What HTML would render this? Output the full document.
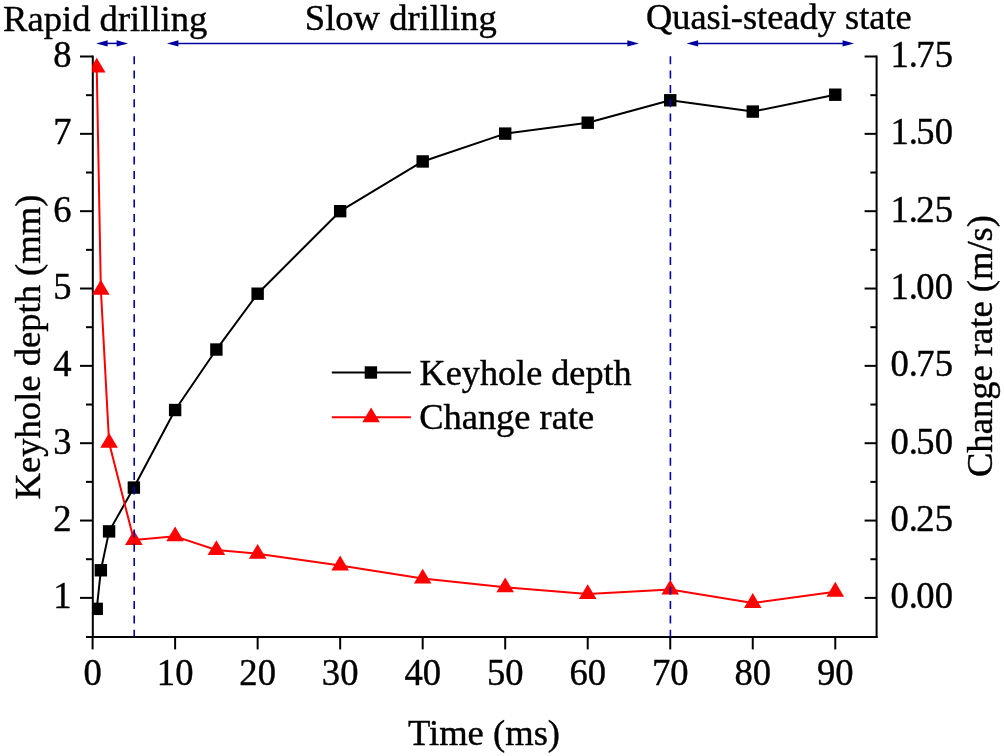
<!DOCTYPE html>
<html><head><meta charset="utf-8"><title>Keyhole depth chart</title>
<style>
html,body{margin:0;padding:0;background:#fff;}
body{width:1004px;height:756px;overflow:hidden;}
svg{display:block;}
text{font-family:"Liberation Serif", "Times New Roman", serif;font-size:36.6px;fill:#000;stroke:#000;stroke-width:0.4px;}
</style></head><body>
<svg width="1004" height="756" viewBox="0 0 1004 756">
<rect x="0" y="0" width="1004" height="756" fill="#fff"/>
<defs><clipPath id="pa"><rect x="92.3" y="36.5" width="784.3" height="600.5"/></clipPath></defs>
<g stroke="#000" stroke-width="2" fill="none">
<line x1="92.8" y1="55.6" x2="92.8" y2="637"/>
<line x1="86" y1="637" x2="877.6" y2="637"/>
<line x1="876.6" y1="55.5" x2="876.6" y2="638"/>
<line x1="80" y1="597.88" x2="92.6" y2="597.88"/>
<line x1="80" y1="520.54" x2="92.6" y2="520.54"/>
<line x1="80" y1="443.2" x2="92.6" y2="443.2"/>
<line x1="80" y1="365.86" x2="92.6" y2="365.86"/>
<line x1="80" y1="288.52" x2="92.6" y2="288.52"/>
<line x1="80" y1="211.18" x2="92.6" y2="211.18"/>
<line x1="80" y1="133.84" x2="92.6" y2="133.84"/>
<line x1="80" y1="56.5" x2="92.6" y2="56.5"/>
<line x1="86" y1="559.21" x2="92.6" y2="559.21"/>
<line x1="86" y1="481.87" x2="92.6" y2="481.87"/>
<line x1="86" y1="404.53" x2="92.6" y2="404.53"/>
<line x1="86" y1="327.19" x2="92.6" y2="327.19"/>
<line x1="86" y1="249.85" x2="92.6" y2="249.85"/>
<line x1="86" y1="172.51" x2="92.6" y2="172.51"/>
<line x1="86" y1="95.17" x2="92.6" y2="95.17"/>
<line x1="864.6" y1="597.9" x2="876.6" y2="597.9"/>
<line x1="864.6" y1="520.56" x2="876.6" y2="520.56"/>
<line x1="864.6" y1="443.21" x2="876.6" y2="443.21"/>
<line x1="864.6" y1="365.87" x2="876.6" y2="365.87"/>
<line x1="864.6" y1="288.53" x2="876.6" y2="288.53"/>
<line x1="864.6" y1="211.19" x2="876.6" y2="211.19"/>
<line x1="864.6" y1="133.84" x2="876.6" y2="133.84"/>
<line x1="864.6" y1="56.5" x2="876.6" y2="56.5"/>
<line x1="870.4" y1="559.23" x2="876.6" y2="559.23"/>
<line x1="870.4" y1="481.89" x2="876.6" y2="481.89"/>
<line x1="870.4" y1="404.54" x2="876.6" y2="404.54"/>
<line x1="870.4" y1="327.2" x2="876.6" y2="327.2"/>
<line x1="870.4" y1="249.86" x2="876.6" y2="249.86"/>
<line x1="870.4" y1="172.52" x2="876.6" y2="172.52"/>
<line x1="870.4" y1="95.17" x2="876.6" y2="95.17"/>
<line x1="92.6" y1="637" x2="92.6" y2="649.4"/>
<line x1="175.12" y1="637" x2="175.12" y2="649.4"/>
<line x1="257.64" y1="637" x2="257.64" y2="649.4"/>
<line x1="340.16" y1="637" x2="340.16" y2="649.4"/>
<line x1="422.68" y1="637" x2="422.68" y2="649.4"/>
<line x1="505.2" y1="637" x2="505.2" y2="649.4"/>
<line x1="587.72" y1="637" x2="587.72" y2="649.4"/>
<line x1="670.24" y1="637" x2="670.24" y2="649.4"/>
<line x1="752.76" y1="637" x2="752.76" y2="649.4"/>
<line x1="835.28" y1="637" x2="835.28" y2="649.4"/>
</g>
<g clip-path="url(#pa)">
<polyline points="96.73,608.86 100.85,570.27 109.1,531.37 133.86,487.59 175.12,410.02 216.38,349.54 257.64,293.7 340.16,211.18 422.68,161.45 505.2,133.61 587.72,122.7 670.24,100.27 752.76,111.57 835.28,94.71" fill="none" stroke="#000" stroke-width="2" stroke-linejoin="round"/>
<polyline points="96.73,67.52 100.85,289.65 109.1,442.79 133.86,540.03 175.12,536.34 216.38,550.01 257.64,553.73 340.16,565.39 422.68,578.51 505.2,587.26 587.72,594.04 670.24,589.43 752.76,602.92 835.28,591.66" fill="none" stroke="#f00" stroke-width="2" stroke-linejoin="round"/>
<rect x="90.53" y="602.66" width="12.4" height="12.4" fill="#000"/>
<rect x="94.65" y="564.07" width="12.4" height="12.4" fill="#000"/>
<rect x="102.9" y="525.17" width="12.4" height="12.4" fill="#000"/>
<rect x="127.66" y="481.39" width="12.4" height="12.4" fill="#000"/>
<rect x="168.92" y="403.82" width="12.4" height="12.4" fill="#000"/>
<rect x="210.18" y="343.34" width="12.4" height="12.4" fill="#000"/>
<rect x="251.44" y="287.5" width="12.4" height="12.4" fill="#000"/>
<rect x="333.96" y="204.98" width="12.4" height="12.4" fill="#000"/>
<rect x="416.48" y="155.25" width="12.4" height="12.4" fill="#000"/>
<rect x="499" y="127.41" width="12.4" height="12.4" fill="#000"/>
<rect x="581.52" y="116.5" width="12.4" height="12.4" fill="#000"/>
<rect x="664.04" y="94.07" width="12.4" height="12.4" fill="#000"/>
<rect x="746.56" y="105.37" width="12.4" height="12.4" fill="#000"/>
<rect x="829.08" y="88.51" width="12.4" height="12.4" fill="#000"/>
<polygon points="96.73,57.72 105.53,72.52 87.93,72.52" fill="#f00"/>
<polygon points="100.85,279.85 109.65,294.65 92.05,294.65" fill="#f00"/>
<polygon points="109.1,432.99 117.9,447.79 100.3,447.79" fill="#f00"/>
<polygon points="133.86,530.23 142.66,545.03 125.06,545.03" fill="#f00"/>
<polygon points="175.12,526.54 183.92,541.34 166.32,541.34" fill="#f00"/>
<polygon points="216.38,540.21 225.18,555.01 207.58,555.01" fill="#f00"/>
<polygon points="257.64,543.93 266.44,558.73 248.84,558.73" fill="#f00"/>
<polygon points="340.16,555.59 348.96,570.39 331.36,570.39" fill="#f00"/>
<polygon points="422.68,568.71 431.48,583.51 413.88,583.51" fill="#f00"/>
<polygon points="505.2,577.46 514,592.26 496.4,592.26" fill="#f00"/>
<polygon points="587.72,584.24 596.52,599.04 578.92,599.04" fill="#f00"/>
<polygon points="670.24,579.63 679.04,594.43 661.44,594.43" fill="#f00"/>
<polygon points="752.76,593.12 761.56,607.92 743.96,607.92" fill="#f00"/>
<polygon points="835.28,581.86 844.08,596.66 826.48,596.66" fill="#f00"/>
</g>
<line x1="134.2" y1="56.2" x2="134.2" y2="637" stroke="#0000b0" stroke-width="1.6" stroke-dasharray="8 6.34"/>
<line x1="670.4" y1="56.2" x2="670.4" y2="637" stroke="#0000b0" stroke-width="1.6" stroke-dasharray="8 6.34"/>
<line x1="101.1" y1="43.4" x2="123.1" y2="43.4" stroke="#0000a0" stroke-width="1.5"/>
<polygon points="96.1,43.4 107.6,40.3 107.6,46.5" fill="#0000a0"/>
<polygon points="128.1,43.4 116.6,40.3 116.6,46.5" fill="#0000a0"/>
<line x1="171.9" y1="43.4" x2="633.9" y2="43.4" stroke="#0000a0" stroke-width="1.5"/>
<polygon points="166.9,43.4 178.4,40.3 178.4,46.5" fill="#0000a0"/>
<polygon points="638.9,43.4 627.4,40.3 627.4,46.5" fill="#0000a0"/>
<line x1="691.6" y1="43.4" x2="849.1" y2="43.4" stroke="#0000a0" stroke-width="1.5"/>
<polygon points="686.6,43.4 698.1,40.3 698.1,46.5" fill="#0000a0"/>
<polygon points="854.1,43.4 842.6,40.3 842.6,46.5" fill="#0000a0"/>
<text transform="translate(71.5,608.48) scale(1,1.035)" text-anchor="end">1</text>
<text transform="translate(71.5,531.14) scale(1,1.035)" text-anchor="end">2</text>
<text transform="translate(71.5,453.8) scale(1,1.035)" text-anchor="end">3</text>
<text transform="translate(71.5,376.46) scale(1,1.035)" text-anchor="end">4</text>
<text transform="translate(71.5,299.12) scale(1,1.035)" text-anchor="end">5</text>
<text transform="translate(71.5,221.78) scale(1,1.035)" text-anchor="end">6</text>
<text transform="translate(71.5,144.44) scale(1,1.035)" text-anchor="end">7</text>
<text transform="translate(71.5,67.1) scale(1,1.035)" text-anchor="end">8</text>
<text transform="translate(890.4,608.3) scale(1,1.035)">0.<tspan dx="-1.5">00</tspan></text>
<text transform="translate(890.4,530.96) scale(1,1.035)">0.<tspan dx="-1.5">25</tspan></text>
<text transform="translate(890.4,453.61) scale(1,1.035)">0.<tspan dx="-1.5">50</tspan></text>
<text transform="translate(890.4,376.27) scale(1,1.035)">0.<tspan dx="-1.5">75</tspan></text>
<text transform="translate(890.4,298.93) scale(1,1.035)">1.<tspan dx="-1.5">00</tspan></text>
<text transform="translate(890.4,221.59) scale(1,1.035)">1.<tspan dx="-1.5">25</tspan></text>
<text transform="translate(890.4,144.24) scale(1,1.035)">1.<tspan dx="-1.5">50</tspan></text>
<text transform="translate(890.4,66.9) scale(1,1.035)">1.<tspan dx="-1.5">75</tspan></text>
<text transform="translate(92.6,684.9) scale(1,1.035)" text-anchor="middle">0</text>
<text transform="translate(175.12,684.9) scale(1,1.035)" text-anchor="middle">10</text>
<text transform="translate(257.64,684.9) scale(1,1.035)" text-anchor="middle">20</text>
<text transform="translate(340.16,684.9) scale(1,1.035)" text-anchor="middle">30</text>
<text transform="translate(422.68,684.9) scale(1,1.035)" text-anchor="middle">40</text>
<text transform="translate(505.2,684.9) scale(1,1.035)" text-anchor="middle">50</text>
<text transform="translate(587.72,684.9) scale(1,1.035)" text-anchor="middle">60</text>
<text transform="translate(670.24,684.9) scale(1,1.035)" text-anchor="middle">70</text>
<text transform="translate(752.76,684.9) scale(1,1.035)" text-anchor="middle">80</text>
<text transform="translate(835.28,684.9) scale(1,1.035)" text-anchor="middle">90</text>
<text transform="translate(484,744.8)" text-anchor="middle">Time (ms)</text>
<text transform="translate(39.6,347) rotate(-90)" text-anchor="middle">Keyhole depth (mm)</text>
<text transform="translate(992,346) rotate(-90)" text-anchor="middle">Change rate (m/s)</text>
<text transform="translate(3.1,31.4)">Rapid drilling</text>
<text transform="translate(304.8,29.9)">Slow drilling</text>
<text transform="translate(645.9,28.8)" style="font-size:36.4px">Quasi-steady state</text>
<line x1="331.8" y1="372.5" x2="410.9" y2="372.5" stroke="#000" stroke-width="2"/>
<rect x="364.7" y="366.3" width="12.4" height="12.4" fill="#000"/>
<line x1="331.8" y1="417.3" x2="410.9" y2="417.3" stroke="#f00" stroke-width="2"/>
<polygon points="371.1,407.5 379.9,422.3 362.3,422.3" fill="#f00"/>
<text transform="translate(419.6,384.5)" style="font-size:36.2px">Keyhole depth</text>
<text transform="translate(419.2,429.1)" style="font-size:36.45px">Change rate</text>
</svg>
</body></html>
